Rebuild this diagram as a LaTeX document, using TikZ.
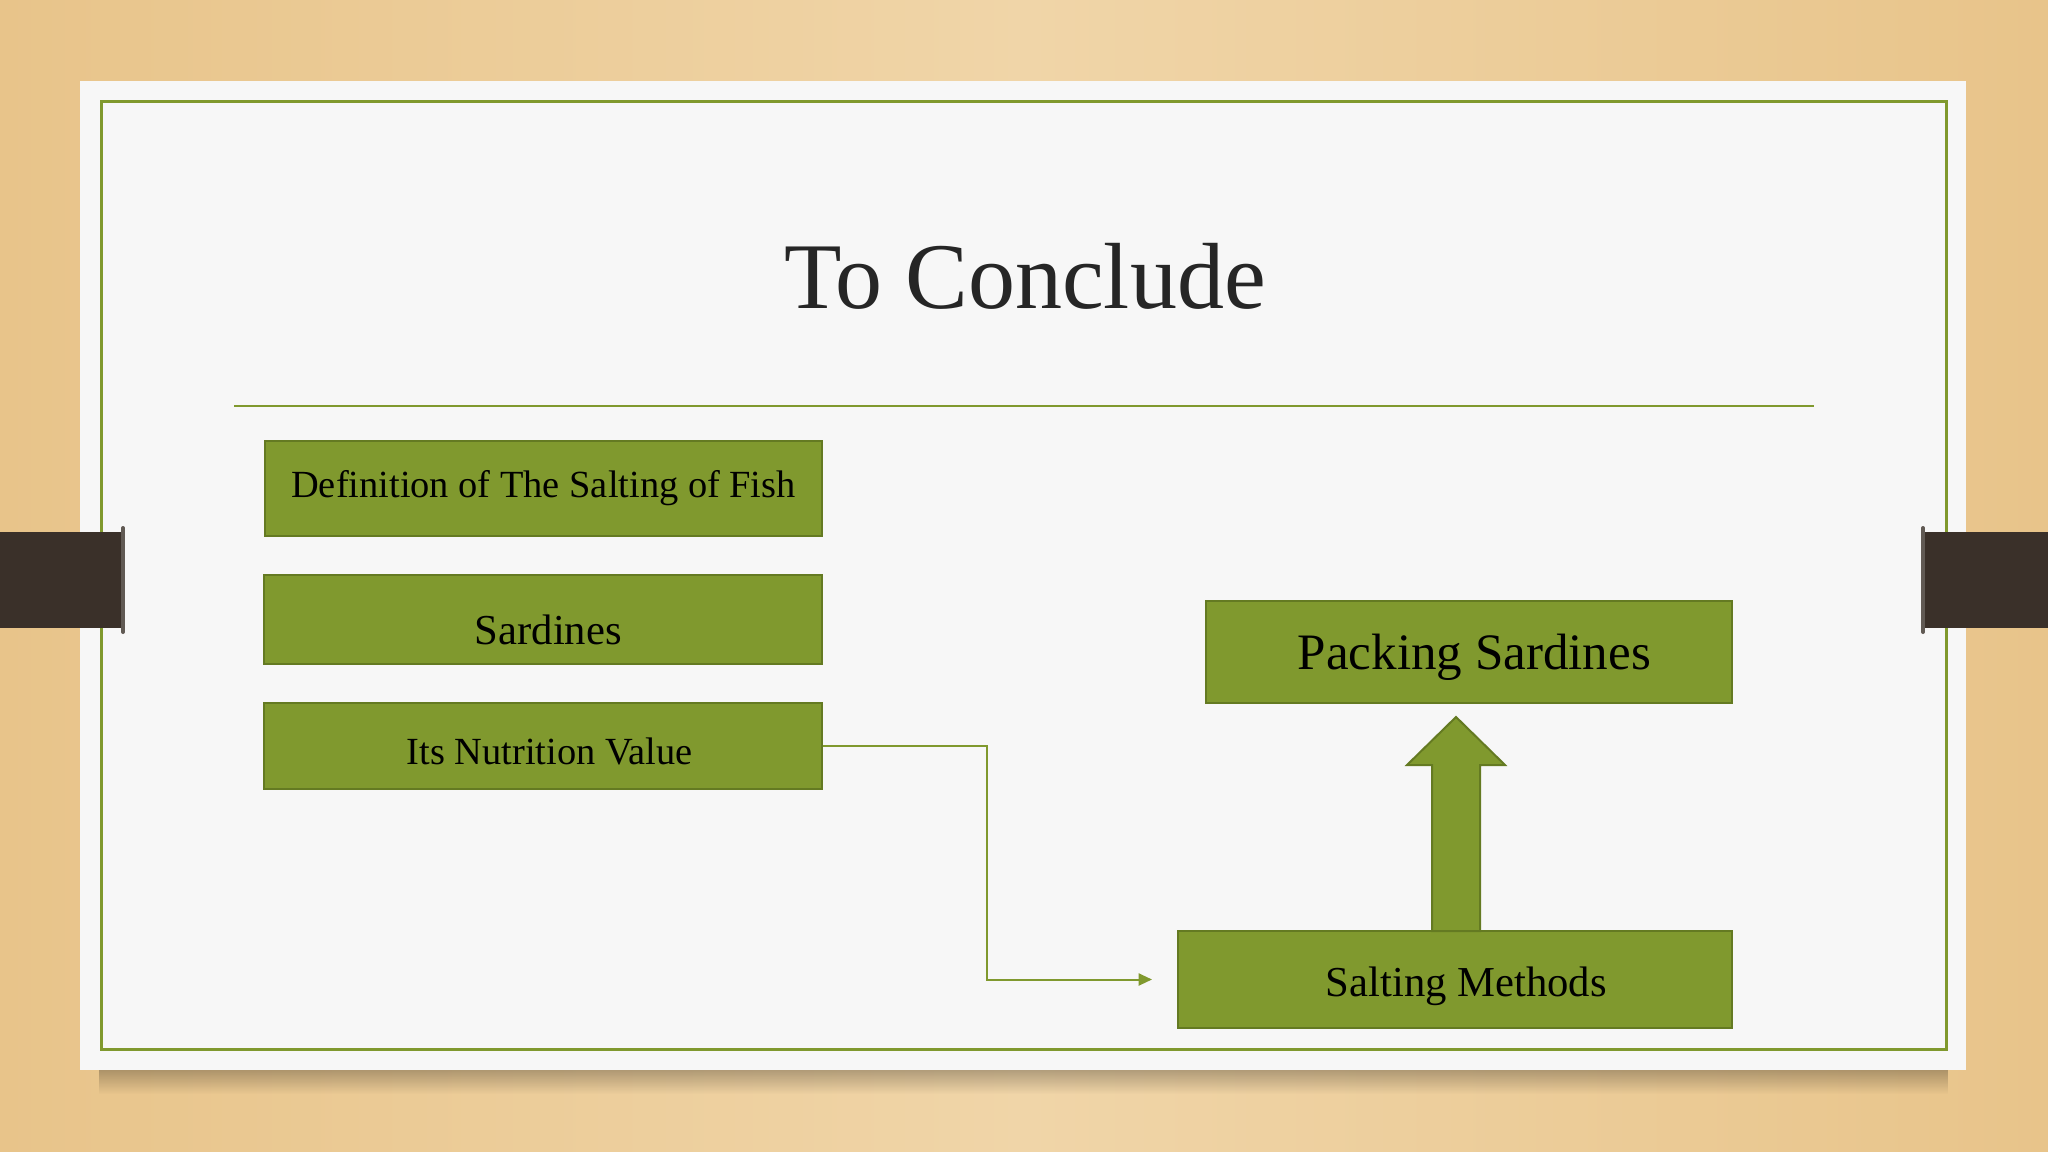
\documentclass[tikz,border=0pt]{standalone}
\usepackage{fontspec}
\setmainfont{Liberation Serif}
\usetikzlibrary{arrows.meta,fadings}

\definecolor{woodbg}{RGB}{232,196,138}
\definecolor{woodlight}{RGB}{240,213,168}
\definecolor{slidewhite}{RGB}{247,247,247}
\definecolor{leafgreen}{RGB}{128,153,46}
\definecolor{leafdark}{RGB}{100,122,34}
\definecolor{clipbrown}{RGB}{58,48,41}
\definecolor{titlegray}{RGB}{38,38,38}

% nudge a box text: right by #1, down by #2
\newcommand{\nudgetext}[3]{\hspace*{#1}\raisebox{-#2}[\height][\depth]{#3}}

\tikzset{every picture/.style={line width=0.75pt}}
\tikzset{
  topicbox/.style={draw=leafdark, fill=leafgreen, line width=1.5pt, inner sep=0pt, text=black},
  conn/.style={draw=leafgreen, line width=1.5pt, -{Triangle[length=10pt,width=9pt]}}
}

\begin{document}
\begin{tikzpicture}[x=0.75pt,y=0.75pt,yscale=-1,xscale=1]
        \useasboundingbox (0,0) rectangle (2048,1152);

        %Background: wood
        \shade [left color=woodbg, right color=woodbg, middle color=woodlight] (0,0) rectangle (2048,1152);
        %Shadow under the slide
        \fill [black, opacity=0.28, path fading=south] (100,1068) rectangle (1950,1094);
        %Slide sheet
        \fill [slidewhite] (80,81) rectangle (1966,1070);
        %Frame
        \draw [leafgreen, line width=2.25pt] (101,102) rectangle (1946,1049);

        %Clips
        \fill [clipbrown] (0,532) rectangle (124,628);
        \draw [clipbrown!80!white, line width=3pt, line cap=round] (123,528) -- (123,632);
        \fill [clipbrown] (1923,532) rectangle (2048,628);
        \draw [clipbrown!80!white, line width=3pt, line cap=round] (1923,528) -- (1923,632);

        %Title
        \node [text=titlegray, font=\fontsize{70.5}{80}\selectfont, anchor=base] (title) at (1025,308) {To Conclude};
        \draw [leafgreen, line width=1.5pt] (234,406) -- (1814,406);

        %Topic boxes
        \node [topicbox, minimum width=417.8pt, minimum height=71.3pt, font=\fontsize{28.8}{32}\selectfont] (defn) at (543.5,488.5) {Definition of The Salting of Fish};
        \node [topicbox, minimum width=418.5pt, minimum height=66.8pt, font=\fontsize{32}{36}\selectfont] (sard) at (543,619.5) {\nudgetext{8pt}{8pt}{Sardines}};
        \node [topicbox, minimum width=418.5pt, minimum height=64.5pt, font=\fontsize{28.8}{32}\selectfont] (nutr) at (543,746) {\nudgetext{10pt}{4pt}{Its Nutrition Value}};
        \node [topicbox, minimum width=394.5pt, minimum height=76.5pt, font=\fontsize{38.3}{44}\selectfont] (pack) at (1469,652) {\nudgetext{8pt}{4pt}{Packing Sardines}};
        \node [topicbox, minimum width=415.5pt, minimum height=72.8pt, font=\fontsize{32}{36}\selectfont] (salt) at (1455,979.5) {\nudgetext{17pt}{5pt}{Salting Methods}};

        %Elbow connector
        \coordinate (bend) at (987,746);
        \draw [conn, shorten >=18.75pt] (nutr.east) -- (bend) |- (salt.west);

        %Block arrow up
        \draw [fill=leafgreen, draw=leafdark, line width=1.5pt, line join=miter] (1432,931) -- (1432,765) -- (1407,765) -- (1456,717) -- (1505,765) -- (1480,765) -- (1480,931) -- cycle;

\end{tikzpicture}
\end{document}
